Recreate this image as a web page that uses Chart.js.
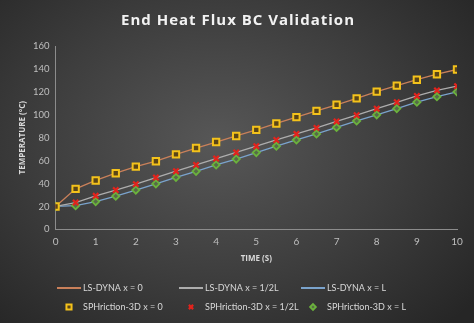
<!DOCTYPE html>
<html>
<head>
<meta charset="utf-8">
<script src="https://cdn.jsdelivr.net/npm/chart.js@4.4.1/dist/chart.umd.min.js"></script>
<style>
  html, body { margin: 0; padding: 0; }
  body {
    width: 474px; height: 323px; overflow: hidden;
    background: radial-gradient(ellipse 70% 78% at 46% 44%, #575757 0%, #3d3d3d 55%, #262626 100%);
  }
</style>
</head>
<body>
<canvas id="heatChart" width="474" height="323"></canvas>
<script>
// time (s)
let times = [0, 0.5, 1, 1.5, 2, 2.5, 3, 3.5, 4, 4.5, 5, 5.5, 6, 6.5, 7, 7.5, 8, 8.5, 9, 9.5, 10];

// LS-DYNA curves (°C)
let dynaX0   = [20, 35.4, 42.7, 49, 54.8, 59.5, 65.5, 71, 76.2, 81.5, 86.8, 92.4, 98, 103.4, 108.7, 114.3, 120.2, 125.4, 130.6, 135.4, 139.5];
let dynaHalf = [20, 23.4, 29.3, 34.3, 39.5, 45.2, 50.8, 56.3, 61.8, 67.1, 72.6, 78, 83.3, 88.6, 94.2, 99.6, 105.3, 110.9, 116.4, 121.3, 125];
let dynaL    = [20, 20.7, 24.3, 29, 34.3, 39.8, 45.4, 50.7, 56.2, 61.4, 67, 72.6, 78, 83.3, 89, 94.6, 100, 105.4, 111, 115.8, 120];

// SPHriction-3D points (°C)
let sphX0   = [20, 35.4, 42.7, 49, 54.8, 59.5, 65.5, 71, 76.2, 81.5, 86.8, 92.4, 98, 103.4, 108.7, 114.3, 120.2, 125.4, 130.6, 135.4, 139.5];
let sphHalf = [20, 23.4, 29.3, 34.3, 39.5, 45.2, 50.8, 56.3, 61.8, 67.1, 72.6, 78, 83.3, 88.6, 94.2, 99.6, 105.3, 110.9, 116.4, 121.3, 125];
let sphL    = [20, 20.7, 24.3, 29, 34.3, 39.8, 45.4, 50.7, 56.2, 61.4, 67, 72.6, 78, 83.3, 89, 94.6, 100, 105.4, 111, 115.8, 120];

let chartTitle = "End Heat Flux BC Validation";

function pts(vals) {
  return vals.map((v, i) => ({ x: times[i], y: v }));
}

// title with a bit of letter spacing, like the original
const spacedTitle = {
  id: "spacedTitle",
  afterDraw(chart) {
    const ctx = chart.ctx;
    ctx.save();
    ctx.font = "bold 15px 'Open Sans'";
    ctx.letterSpacing = "1px";
    ctx.fillStyle = "#f2f2f2";
    ctx.textAlign = "center";
    ctx.textBaseline = "middle";
    ctx.fillText(chartTitle, 238, 21);
    ctx.restore();
  }
};

// legend drawn as a 3x2 grid under the chart
const legendGrid = {
  id: "legendGrid",
  afterDraw(chart) {
    const ctx = chart.ctx;
    const cols = [57, 179, 301];
    const rows = [288, 307];
    ctx.save();
    ctx.font = "9px Lato";
    ctx.textBaseline = "middle";
    chart.data.datasets.forEach((ds) => {
      const x = cols[ds.legendCol];
      const y = rows[ds.legendRow];
      if (ds.showLine === false) {
        ctx.fillStyle = ds.pointBackgroundColor;
        ctx.strokeStyle = ds.pointBorderColor;
        ctx.lineWidth = ds.pointBorderWidth;
        Chart.helpers.drawPoint(ctx, {
          pointStyle: ds.pointStyle, radius: ds.pointRadius * 0.8, rotation: 0, borderWidth: ds.pointBorderWidth
        }, x + 12, y);
      } else {
        ctx.strokeStyle = ds.borderColor;
        ctx.lineWidth = 2;
        ctx.beginPath();
        ctx.moveTo(x, y);
        ctx.lineTo(x + 24, y);
        ctx.stroke();
      }
      ctx.fillStyle = "#d9d9d9";
      ctx.fillText(ds.label, x + 26, y);
    });
    ctx.restore();
  }
};

const ctx = document.getElementById("heatChart").getContext("2d");
const heatChart = new Chart(ctx, {
  type: "line",
  data: {
    datasets: [
      {
        label: "SPHriction-3D x = 0", data: pts(sphX0), showLine: false,
        pointStyle: "rect", pointRadius: 4.5, pointBorderWidth: 2,
        pointBorderColor: "#f4c21b", pointBackgroundColor: "#5a4517",
        legendCol: 0, legendRow: 1
      },
      {
        label: "SPHriction-3D x = 1/2L", data: pts(sphHalf), showLine: false,
        pointStyle: "crossRot", pointRadius: 3.8, pointBorderWidth: 2.2,
        pointBorderColor: "#e3231c", pointBackgroundColor: "#e3231c",
        legendCol: 1, legendRow: 1
      },
      {
        label: "SPHriction-3D x = L", data: pts(sphL), showLine: false,
        pointStyle: "rectRot", pointRadius: 3.6, pointBorderWidth: 1.8,
        pointBorderColor: "#6bb23c", pointBackgroundColor: "#566b48",
        legendCol: 2, legendRow: 1
      },
      {
        label: "LS-DYNA x = 0", data: pts(dynaX0), borderColor: "#c9805a",
        borderWidth: 1.3, pointRadius: 0, legendCol: 0, legendRow: 0
      },
      {
        label: "LS-DYNA x = 1/2L", data: pts(dynaHalf), borderColor: "#adadad",
        borderWidth: 1.3, pointRadius: 0, legendCol: 1, legendRow: 0
      },
      {
        label: "LS-DYNA x = L", data: pts(dynaL), borderColor: "#7aa3cc",
        borderWidth: 1.3, pointRadius: 0, legendCol: 2, legendRow: 0
      }
    ]
  },
  options: {
    responsive: false,
    animation: false,
    layout: { padding: { left: 19, right: 17, top: 46, bottom: 59 } },
    plugins: {
      legend: { display: false },
      tooltip: { enabled: false },
      title: { display: false }
    },
    scales: {
      x: {
        type: "linear", min: 0, max: 10,
        grid: { display: false, drawTicks: false },
        border: { display: true, color: "#8c8c8c", width: 1 },
        ticks: { stepSize: 1, color: "#bfbfbf", font: { family: "Lato", size: 10 }, padding: 6 },
        title: { display: true, text: "TIME (S)", color: "#d9d9d9",
                 font: { family: "'Open Sans'", size: 8, weight: "bold" }, padding: { top: 1, bottom: 0 } }
      },
      y: {
        min: 0, max: 160,
        grid: { display: false, drawTicks: false },
        border: { display: true, color: "#8c8c8c", width: 1 },
        ticks: { stepSize: 20, color: "#bfbfbf", font: { family: "Lato", size: 9.5 }, padding: 6 },
        title: { display: true, text: "TEMPERATURE (°C)", color: "#d9d9d9",
                 font: { family: "'Open Sans'", size: 8, weight: "bold", lineHeight: 1 }, padding: { top: 0, bottom: 0 } }
      }
    }
  },
  plugins: [spacedTitle, legendGrid]
});
</script>
</body>
</html>
